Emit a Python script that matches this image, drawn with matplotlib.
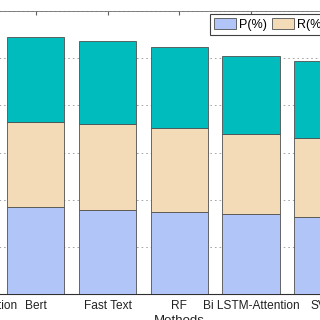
import matplotlib.pyplot as plt
import numpy as np

plt.rcParams['font.family'] = ['Liberation Sans', 'DejaVu Sans']

# tick labels (first one only partly visible in the crop)
labels = ['CNN-GRU-Attention', 'Bert', 'Fast Text', 'RF', 'Bi LSTM-Attention', 'SVM']
methods = ['Bert', 'Fast Text', 'RF', 'Bi LSTM-Attention', 'SVM']
P = [92.2, 89.0, 86.6, 84.5, 81.3]
R = [90.1, 90.9, 89.1, 85.4, 84.4]
F = [90.1, 88.0, 86.1, 83.1, 81.3]

c_p = '#b1c5f8'
c_r = '#f2dbb6'
c_f = '#00bcbc'

fig = plt.figure(figsize=(3.2, 3.2), dpi=100)
# axes reaches past the picture edges, as in the cropped original
ax = fig.add_axes([-0.225, 0.081, 1.571, 0.884])

x = np.arange(1, len(methods) + 1)
P = np.array(P)
R = np.array(R)
F = np.array(F)
ec = '#505050'
ax.bar(x, P, 0.8, color=c_p, edgecolor=ec, linewidth=0.6, label='P(%)', zorder=3)
ax.bar(x, R, 0.8, bottom=P, color=c_r, edgecolor=ec, linewidth=0.6, label='R(%)', zorder=3)
ax.bar(x, F, 0.8, bottom=P + R, color=c_f, edgecolor=ec, linewidth=0.6, label='F(%)', zorder=3)

ax.set_xlim(-0.5, 6.5)
ax.set_ylim(0, 300)
ax.set_yticks(np.arange(0, 301, 50))
ax.set_xticks(range(len(labels)))
ax.set_xticklabels(labels, fontsize=8.6, color='#222222')
ax.tick_params(axis='x', direction='in', top=True, length=3, pad=4, color='#606060')
ax.tick_params(axis='y', direction='in', right=True, length=3)
ax.yaxis.grid(True, linestyle=(0, (2, 3.5)), color='#999999', linewidth=0.6, zorder=0)
ax.set_axisbelow(True)
for s in ['top', 'left', 'right']:
    ax.spines[s].set_color('#707070')
    ax.spines[s].set_linewidth(0.6)
ax.spines['bottom'].set_color('#303030')
ax.spines['bottom'].set_linewidth(0.8)
ax.set_xlabel('Methods', fontsize=9.5, labelpad=2.5, color='#222222')

leg = ax.legend(loc='upper left', bbox_to_anchor=(210 / 320, 1 - 14 / 320),
                bbox_transform=fig.transFigure, ncol=3, fontsize=9,
                handlelength=1.7, handleheight=0.9, handletextpad=0.25,
                columnspacing=0.45, borderpad=0.35, fancybox=False,
                framealpha=1, borderaxespad=0)
leg.get_frame().set_edgecolor('#404040')
leg.get_frame().set_linewidth(0.8)

fig.savefig('out.png', dpi=100)
